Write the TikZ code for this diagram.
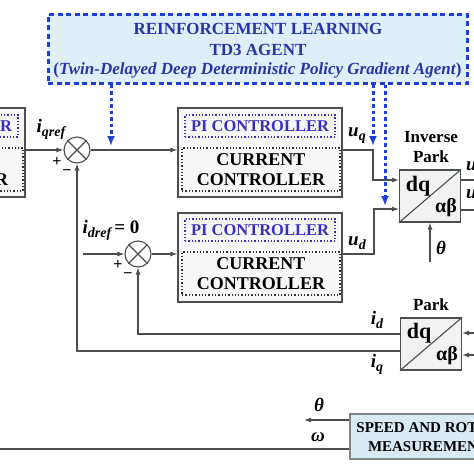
\documentclass[tikz,border=0pt]{standalone}
\usepackage{fontspec}
\setmainfont{Liberation Serif}
\usetikzlibrary{arrows.meta}
\definecolor{lc}{HTML}{4A4F52}
\definecolor{rlblue}{HTML}{1E3FD6}
\definecolor{rltext}{HTML}{2634A8}
\definecolor{rlfill}{HTML}{DFEFF8}
\definecolor{boxfill}{HTML}{F7F7F7}
\definecolor{dotblue}{HTML}{3A2FC0}
\definecolor{spdfill}{HTML}{D8EBF5}
\newcommand{\fs}[1]{\fontsize{#1}{#1}\selectfont}
\newcommand{\lsub}[2]{#1\raisebox{-0.45ex}{\fontsize{14}{14}\selectfont #2}}
\begin{document}
\begin{tikzpicture}[x=1pt,y=-1pt,
  ln/.style={draw=lc,line width=1.1pt},
  arr/.style={ln,-{Latex[length=7pt,width=5pt]}},
  rlarr/.style={draw=rlblue,line width=3pt,dash pattern=on 3.5pt off 3pt,-{Latex[length=10pt,width=8pt]}},
  outerbox/.style={draw=lc,line width=1.2pt,fill=boxfill,minimum width=164pt,minimum height=89pt,inner sep=0pt},
  bluebox/.style={draw=dotblue,line width=1.3pt,dotted,minimum width=150pt,minimum height=22pt,inner sep=0pt,text=dotblue,font=\fs{16.5}\bfseries},
  blackbox/.style={draw=black!80,line width=1.3pt,dotted,minimum width=158pt,minimum height=43pt,inner sep=0pt,align=center,font=\fontsize{18}{20.5}\selectfont\bfseries},
  sumnode/.style={circle,draw=lc,line width=1.1pt,minimum size=26pt,inner sep=0pt},
  parkbox/.style={draw=lc,line width=1.2pt,fill=black!5,minimum width=61pt,minimum height=52pt,inner sep=0pt},
  lbl/.style={inner sep=0pt,font=\fs{19}\bfseries\itshape},
  plain/.style={inner sep=0pt,font=\fs{17}\bfseries}]
\useasboundingbox (0,0) rectangle (474,474);
\clip (0,0) rectangle (474,474);
\fill[white] (0,0) rectangle (474,474);

% RL agent box
\node[draw=rlblue,fill=rlfill,line width=3pt,dash pattern=on 5pt off 3.5pt,minimum width=419pt,minimum height=69pt,inner sep=0pt] (rl) at (257.5,48.5) {};
\node[inner sep=0pt,text=rltext,font=\fs{17}\bfseries] (rlt1) at (258,29) {REINFORCEMENT LEARNING};
\node[inner sep=0pt,text=rltext,font=\fs{17}\bfseries] (rlt2) at (258,50) {TD3 AGENT};
\node[inner sep=0pt,text=rltext,font=\fs{17}\bfseries] (rlt3) at (257.5,70) {(\textit{Twin-Delayed Deep Deterministic Policy Gradient Agent})};

% left (speed) controller box, partly outside
\node[outerbox] (lb) at (-57,152.5) {};
\node[bluebox] (lbb) at (-57,126) {PI CONTROLLER};
\node[blackbox] (lbc) at (-56,169.5) {SPEED\\CONTROLLER};

% current controllers
\node[outerbox] (pi1) at (260,152.5) {};
\node[bluebox] (pi1b) at (260,126) {PI CONTROLLER};
\node[blackbox] (pi1c) at (261,169.5) {CURRENT\\CONTROLLER};

\node[outerbox] (pi2) at (260,257.5) {};
\node[bluebox] (pi2b) at (260,230) {PI CONTROLLER};
\node[blackbox] (pi2c) at (261,273.5) {CURRENT\\CONTROLLER};

% summing junctions
\node[sumnode] (sum1) at (77,150) {};
\draw[ln] (sum1.north west) -- (sum1.south east) (sum1.north east) -- (sum1.south west);
\node[sumnode] (sum2) at (138,254) {};
\draw[ln] (sum2.north west) -- (sum2.south east) (sum2.north east) -- (sum2.south west);

% Park transforms
\node[parkbox] (ipark) at (430,196) {};
\draw[ln] (ipark.south west) -- (ipark.north east);
\node[inner sep=0pt,font=\fs{22}\bfseries] (ipdq) at (418,186) {dq};
\node[inner sep=0pt,font=\fs{20}\bfseries] (ipab) at (446,208) {αβ};
\node[plain] (iplab1) at (431,137) {Inverse};
\node[plain] (iplab2) at (431,157) {Park};

\node[parkbox] (park) at (431,344) {};
\draw[ln] (park.south west) -- (park.north east);
\node[inner sep=0pt,font=\fs{22}\bfseries] (pdq) at (419,333) {dq};
\node[inner sep=0pt,font=\fs{20}\bfseries] (pab) at (447,356) {αβ};
\node[plain] (plab) at (431,305) {Park};

% speed measurement box
\node[draw=lc!70,line width=1.2pt,fill=spdfill,minimum width=160pt,minimum height=45pt,inner sep=0pt] (spd) at (430,436.5) {};
\node[inner sep=0pt,align=center,font=\fontsize{15}{19}\selectfont\bfseries] (spdt) at (428,437) {SPEED AND ROTOR\\MEASUREMENT};

% coordinates
\coordinate (uqk) at (373,180);
\coordinate (udk) at (374,209);
\coordinate (ua) at (474,180);
\coordinate (ub) at (474,210);
\coordinate (th1) at (430,262);
\coordinate (pa) at (474,333);
\coordinate (pb) at (474,355);
\coordinate (idk) at (0,334);
\coordinate (iqk) at (0,351);
\coordinate (idin) at (83,254);
\coordinate (tho) at (304,420);
\coordinate (om) at (0,449);
\coordinate (a1) at (111,146);
\coordinate (a2) at (373,146);
\coordinate (a3) at (385,206);

% connectors
\draw[arr] (lb.east |- sum1) -- (sum1.west);
\draw[arr] (sum1.east) -- (pi1.west |- sum1);
\draw[arr] (idin) -- (sum2.west);
\draw[arr] (sum2.east) -- (pi2.west |- sum2);
\draw[arr] (pi1.east |- sum1) -| (uqk) -- (ipark.west |- uqk);
\draw[arr] (pi2.east |- sum2) -| (udk) -- (ipark.west |- udk);
\draw[ln] (ipark.east |- ua) -- (ua);
\draw[ln] (ipark.east |- ub) -- (ub);
\draw[arr] (th1) -- (ipark.south);
\draw[arr] (pa) -- (park.east |- pa);
\draw[arr] (pb) -- (park.east |- pb);
\draw[arr] (park.west |- idk) -| (sum2.south);
\draw[arr] (park.west |- iqk) -| (sum1.south);
\draw[arr] (spd.west |- tho) -- (tho);
\draw[ln] (spd.west |- om) -- (om);

% RL dashed arrows
\draw[rlarr] (rl.south -| a1) -- (a1);
\draw[rlarr] (rl.south -| a2) -- (a2);
\draw[rlarr] (rl.south -| a3) -- (a3);

% labels
\node[lbl] (liq) at (51,129) {\lsub{i}{qref}};
\node[inner sep=0pt,font=\fs{16}\bfseries] (p1) at (57,162) {+};
\node[inner sep=0pt,font=\fs{16}\bfseries] (m1) at (67,173) {−};
\node[lbl] (lid) at (111,230) {\lsub{i}{dref}\,\upshape = 0};
\node[inner sep=0pt,font=\fs{16}\bfseries] (p2) at (118,265) {+};
\node[inner sep=0pt,font=\fs{16}\bfseries] (m2) at (128,276) {−};
\node[lbl] (luq) at (357,136) {\lsub{u}{q}};
\node[lbl] (lud) at (357,243) {\lsub{u}{d}};
\node[lbl,anchor=west] (lua) at (466,168) {\lsub{u}{α}};
\node[lbl,anchor=west] (lub) at (466,198) {\lsub{u}{β}};
\node[lbl] (lth) at (441,248) {θ};
\node[lbl] (lidp) at (377,320) {\lsub{i}{d}};
\node[lbl] (liqp) at (377,364) {\lsub{i}{q}};
\node[lbl] (ltho) at (319,405) {θ};
\node[lbl] (lom) at (318,437) {ω};
\end{tikzpicture}
\end{document}
